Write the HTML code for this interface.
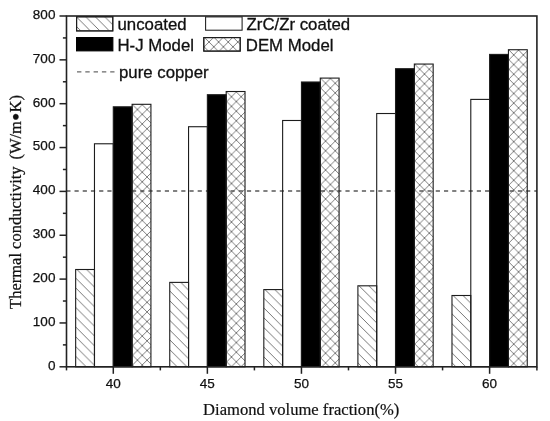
<!DOCTYPE html>
<html><head><meta charset="utf-8"><title>Thermal conductivity chart</title>
<style>
html,body{margin:0;padding:0;background:#fff;overflow:hidden;}
svg{display:block;}
.tk{font-family:"Liberation Sans",Arial,sans-serif;font-size:13.5px;fill:#111;stroke:#111;stroke-width:0.25px;}
.lg{font-family:"Liberation Sans",Arial,sans-serif;font-size:16.8px;fill:#111;stroke:#111;stroke-width:0.3px;}
.ax{font-family:"Liberation Serif","Times New Roman",serif;font-size:17px;fill:#111;stroke:#111;stroke-width:0.25px;}
</style></head>
<body>
<svg width="550" height="421" viewBox="0 0 550 421">
<defs><pattern id="h40" patternUnits="userSpaceOnUse" width="9.78" height="9.78" x="76.86" y="269.50"><path d="M-4.89,4.89 L4.89,14.67 M-1,-1 L10.78,10.78 M4.89,-4.89 L14.67,4.89" stroke="#484848" stroke-width="0.75" fill="none"/></pattern><pattern id="c40" patternUnits="userSpaceOnUse" width="9.64" height="9.64" x="137.41" y="109.51"><path d="M-1.0,-1.0 L10.64,10.64 M10.64,-1.0 L-1.0,10.64" stroke="#4a4a4a" stroke-width="0.72" fill="none"/></pattern><pattern id="h45" patternUnits="userSpaceOnUse" width="9.78" height="9.78" x="170.94" y="282.39"><path d="M-4.89,4.89 L4.89,14.67 M-1,-1 L10.78,10.78 M4.89,-4.89 L14.67,4.89" stroke="#484848" stroke-width="0.75" fill="none"/></pattern><pattern id="c45" patternUnits="userSpaceOnUse" width="9.64" height="9.64" x="231.49" y="96.71"><path d="M-1.0,-1.0 L10.64,10.64 M10.64,-1.0 L-1.0,10.64" stroke="#4a4a4a" stroke-width="0.72" fill="none"/></pattern><pattern id="h50" patternUnits="userSpaceOnUse" width="9.78" height="9.78" x="265.02" y="289.58"><path d="M-4.89,4.89 L4.89,14.67 M-1,-1 L10.78,10.78 M4.89,-4.89 L14.67,4.89" stroke="#484848" stroke-width="0.75" fill="none"/></pattern><pattern id="c50" patternUnits="userSpaceOnUse" width="9.64" height="9.64" x="325.57" y="83.29"><path d="M-1.0,-1.0 L10.64,10.64 M10.64,-1.0 L-1.0,10.64" stroke="#4a4a4a" stroke-width="0.72" fill="none"/></pattern><pattern id="h55" patternUnits="userSpaceOnUse" width="9.78" height="9.78" x="359.10" y="285.81"><path d="M-4.89,4.89 L4.89,14.67 M-1,-1 L10.78,10.78 M4.89,-4.89 L14.67,4.89" stroke="#484848" stroke-width="0.75" fill="none"/></pattern><pattern id="c55" patternUnits="userSpaceOnUse" width="9.64" height="9.64" x="419.65" y="69.26"><path d="M-1.0,-1.0 L10.64,10.64 M10.64,-1.0 L-1.0,10.64" stroke="#4a4a4a" stroke-width="0.72" fill="none"/></pattern><pattern id="h60" patternUnits="userSpaceOnUse" width="9.78" height="9.78" x="453.18" y="295.50"><path d="M-4.89,4.89 L4.89,14.67 M-1,-1 L10.78,10.78 M4.89,-4.89 L14.67,4.89" stroke="#484848" stroke-width="0.75" fill="none"/></pattern><pattern id="c60" patternUnits="userSpaceOnUse" width="9.64" height="9.64" x="513.73" y="54.92"><path d="M-1.0,-1.0 L10.64,10.64 M10.64,-1.0 L-1.0,10.64" stroke="#4a4a4a" stroke-width="0.72" fill="none"/></pattern><pattern id="hl" patternUnits="userSpaceOnUse" width="9.5" height="9.5" x="76.10" y="16.60"><path d="M-4.75,4.75 L4.75,14.25 M-1,-1 L10.50,10.50 M4.75,-4.75 L14.25,4.75" stroke="#484848" stroke-width="0.75" fill="none"/></pattern><pattern id="cl" patternUnits="userSpaceOnUse" width="9.6" height="9.6" x="209.00" y="42.00"><path d="M-1.0,-1.0 L10.60,10.60 M10.60,-1.0 L-1.0,10.60" stroke="#4a4a4a" stroke-width="0.72" fill="none"/></pattern></defs>
<rect width="550" height="421" fill="#fff"/>
<line x1="66.3" y1="191.00" x2="536.90" y2="191.00" stroke="#585858" stroke-width="1.6" stroke-dasharray="4.2 4.01"/>
<rect x="75.66" y="269.50" width="18.82" height="97.30" fill="url(#h40)" stroke="#1c1c1c" stroke-width="1.1"/>
<rect x="94.47" y="143.78" width="18.82" height="223.02" fill="none" stroke="#1c1c1c" stroke-width="1.1"/>
<rect x="113.29" y="106.81" width="18.82" height="259.99" fill="#000" stroke="#1c1c1c" stroke-width="1.1"/>
<rect x="132.11" y="104.31" width="18.82" height="262.49" fill="url(#c40)" stroke="#1c1c1c" stroke-width="1.1"/>
<rect x="169.74" y="282.39" width="18.82" height="84.41" fill="url(#h45)" stroke="#1c1c1c" stroke-width="1.1"/>
<rect x="188.55" y="126.72" width="18.82" height="240.08" fill="none" stroke="#1c1c1c" stroke-width="1.1"/>
<rect x="207.37" y="94.71" width="18.82" height="272.09" fill="#000" stroke="#1c1c1c" stroke-width="1.1"/>
<rect x="226.19" y="91.51" width="18.82" height="275.29" fill="url(#c45)" stroke="#1c1c1c" stroke-width="1.1"/>
<rect x="263.82" y="289.58" width="18.82" height="77.22" fill="url(#h50)" stroke="#1c1c1c" stroke-width="1.1"/>
<rect x="282.63" y="120.49" width="18.82" height="246.31" fill="none" stroke="#1c1c1c" stroke-width="1.1"/>
<rect x="301.45" y="81.99" width="18.82" height="284.81" fill="#000" stroke="#1c1c1c" stroke-width="1.1"/>
<rect x="320.27" y="78.09" width="18.82" height="288.71" fill="url(#c50)" stroke="#1c1c1c" stroke-width="1.1"/>
<rect x="357.90" y="285.81" width="18.82" height="80.99" fill="url(#h55)" stroke="#1c1c1c" stroke-width="1.1"/>
<rect x="376.71" y="113.52" width="18.82" height="253.28" fill="none" stroke="#1c1c1c" stroke-width="1.1"/>
<rect x="395.53" y="68.71" width="18.82" height="298.09" fill="#000" stroke="#1c1c1c" stroke-width="1.1"/>
<rect x="414.35" y="64.06" width="18.82" height="302.74" fill="url(#c55)" stroke="#1c1c1c" stroke-width="1.1"/>
<rect x="451.98" y="295.50" width="18.82" height="71.30" fill="url(#h60)" stroke="#1c1c1c" stroke-width="1.1"/>
<rect x="470.79" y="99.40" width="18.82" height="267.40" fill="none" stroke="#1c1c1c" stroke-width="1.1"/>
<rect x="489.61" y="54.41" width="18.82" height="312.39" fill="#000" stroke="#1c1c1c" stroke-width="1.1"/>
<rect x="508.43" y="49.72" width="18.82" height="317.08" fill="url(#c60)" stroke="#1c1c1c" stroke-width="1.1"/>
<rect x="66.50" y="16.00" width="470.40" height="350.80" fill="none" stroke="#222" stroke-width="1.6"/>
<line x1="59.50" y1="366.80" x2="66.50" y2="366.80" stroke="#222" stroke-width="1.5"/>
<text x="55.4" y="369.70" text-anchor="end" class="tk">0</text>
<line x1="62.90" y1="344.88" x2="66.50" y2="344.88" stroke="#222" stroke-width="1.5"/>
<line x1="59.50" y1="322.95" x2="66.50" y2="322.95" stroke="#222" stroke-width="1.5"/>
<text x="55.4" y="325.85" text-anchor="end" class="tk">100</text>
<line x1="62.90" y1="301.02" x2="66.50" y2="301.02" stroke="#222" stroke-width="1.5"/>
<line x1="59.50" y1="279.10" x2="66.50" y2="279.10" stroke="#222" stroke-width="1.5"/>
<text x="55.4" y="282.00" text-anchor="end" class="tk">200</text>
<line x1="62.90" y1="257.18" x2="66.50" y2="257.18" stroke="#222" stroke-width="1.5"/>
<line x1="59.50" y1="235.25" x2="66.50" y2="235.25" stroke="#222" stroke-width="1.5"/>
<text x="55.4" y="238.15" text-anchor="end" class="tk">300</text>
<line x1="62.90" y1="213.33" x2="66.50" y2="213.33" stroke="#222" stroke-width="1.5"/>
<line x1="59.50" y1="191.40" x2="66.50" y2="191.40" stroke="#222" stroke-width="1.5"/>
<text x="55.4" y="194.30" text-anchor="end" class="tk">400</text>
<line x1="62.90" y1="169.48" x2="66.50" y2="169.48" stroke="#222" stroke-width="1.5"/>
<line x1="59.50" y1="147.55" x2="66.50" y2="147.55" stroke="#222" stroke-width="1.5"/>
<text x="55.4" y="150.45" text-anchor="end" class="tk">500</text>
<line x1="62.90" y1="125.62" x2="66.50" y2="125.62" stroke="#222" stroke-width="1.5"/>
<line x1="59.50" y1="103.70" x2="66.50" y2="103.70" stroke="#222" stroke-width="1.5"/>
<text x="55.4" y="106.60" text-anchor="end" class="tk">600</text>
<line x1="62.90" y1="81.78" x2="66.50" y2="81.78" stroke="#222" stroke-width="1.5"/>
<line x1="59.50" y1="59.85" x2="66.50" y2="59.85" stroke="#222" stroke-width="1.5"/>
<text x="55.4" y="62.75" text-anchor="end" class="tk">700</text>
<line x1="62.90" y1="37.93" x2="66.50" y2="37.93" stroke="#222" stroke-width="1.5"/>
<line x1="59.50" y1="16.00" x2="66.50" y2="16.00" stroke="#222" stroke-width="1.5"/>
<text x="55.4" y="18.90" text-anchor="end" class="tk">800</text>
<line x1="66.50" y1="366.80" x2="66.50" y2="370.40" stroke="#222" stroke-width="1.5"/>
<line x1="160.33" y1="366.80" x2="160.33" y2="370.40" stroke="#222" stroke-width="1.5"/>
<line x1="254.41" y1="366.80" x2="254.41" y2="370.40" stroke="#222" stroke-width="1.5"/>
<line x1="348.49" y1="366.80" x2="348.49" y2="370.40" stroke="#222" stroke-width="1.5"/>
<line x1="442.57" y1="366.80" x2="442.57" y2="370.40" stroke="#222" stroke-width="1.5"/>
<line x1="536.90" y1="366.80" x2="536.90" y2="370.40" stroke="#222" stroke-width="1.5"/>
<line x1="113.29" y1="366.80" x2="113.29" y2="373.80" stroke="#222" stroke-width="1.5"/>
<text x="113.29" y="387.8" text-anchor="middle" class="tk">40</text>
<line x1="207.37" y1="366.80" x2="207.37" y2="373.80" stroke="#222" stroke-width="1.5"/>
<text x="207.37" y="387.8" text-anchor="middle" class="tk">45</text>
<line x1="301.45" y1="366.80" x2="301.45" y2="373.80" stroke="#222" stroke-width="1.5"/>
<text x="301.45" y="387.8" text-anchor="middle" class="tk">50</text>
<line x1="395.53" y1="366.80" x2="395.53" y2="373.80" stroke="#222" stroke-width="1.5"/>
<text x="395.53" y="387.8" text-anchor="middle" class="tk">55</text>
<line x1="489.61" y1="366.80" x2="489.61" y2="373.80" stroke="#222" stroke-width="1.5"/>
<text x="489.61" y="387.8" text-anchor="middle" class="tk">60</text>
<rect x="76.6" y="16.8" width="36.2" height="14.1" fill="#fff" stroke="#1c1c1c" stroke-width="1.05"/>
<rect x="76.6" y="16.8" width="36.2" height="14.1" fill="url(#hl)" stroke="#1c1c1c" stroke-width="1.05"/>
<rect x="76.6" y="37.6" width="36.2" height="13.2" fill="#000" stroke="#000" stroke-width="1.2"/>
<rect x="205.6" y="16.9" width="36.5" height="13.3" fill="#fff" stroke="#1c1c1c" stroke-width="1.05"/>
<rect x="203.8" y="37.6" width="36.4" height="13.5" fill="#fff" stroke="#1c1c1c" stroke-width="1.05"/>
<rect x="203.8" y="37.6" width="36.4" height="13.5" fill="url(#cl)" stroke="#1c1c1c" stroke-width="1.05"/>
<line x1="77" y1="71.8" x2="114.5" y2="71.8" stroke="#6a6a6a" stroke-width="1.3" stroke-dasharray="4.4 3.9"/>
<text x="117.5" y="30.0" class="lg">uncoated</text>
<text x="117.5" y="50.7" class="lg">H-J Model</text>
<text x="246.6" y="30.0" class="lg">ZrC/Zr coated</text>
<text x="245.8" y="50.7" class="lg">DEM Model</text>
<text x="119" y="78.2" class="lg">pure copper</text>
<text x="301.2" y="415.1" text-anchor="middle" class="ax" style="font-size:16.6px;stroke-width:0.2px">Diamond volume fraction(%)</text>
<text transform="rotate(-90)" class="ax" style="font-size:16.5px"><tspan x="-308.9" y="20.5">Thermal conductivity</tspan><tspan x="-159.6" y="20.5">(W/m</tspan><tspan x="-121.0" y="24.0" style="font-size:24px">&#8226;</tspan><tspan x="-112.4" y="20.5">K)</tspan></text>
</svg>
</body></html>
